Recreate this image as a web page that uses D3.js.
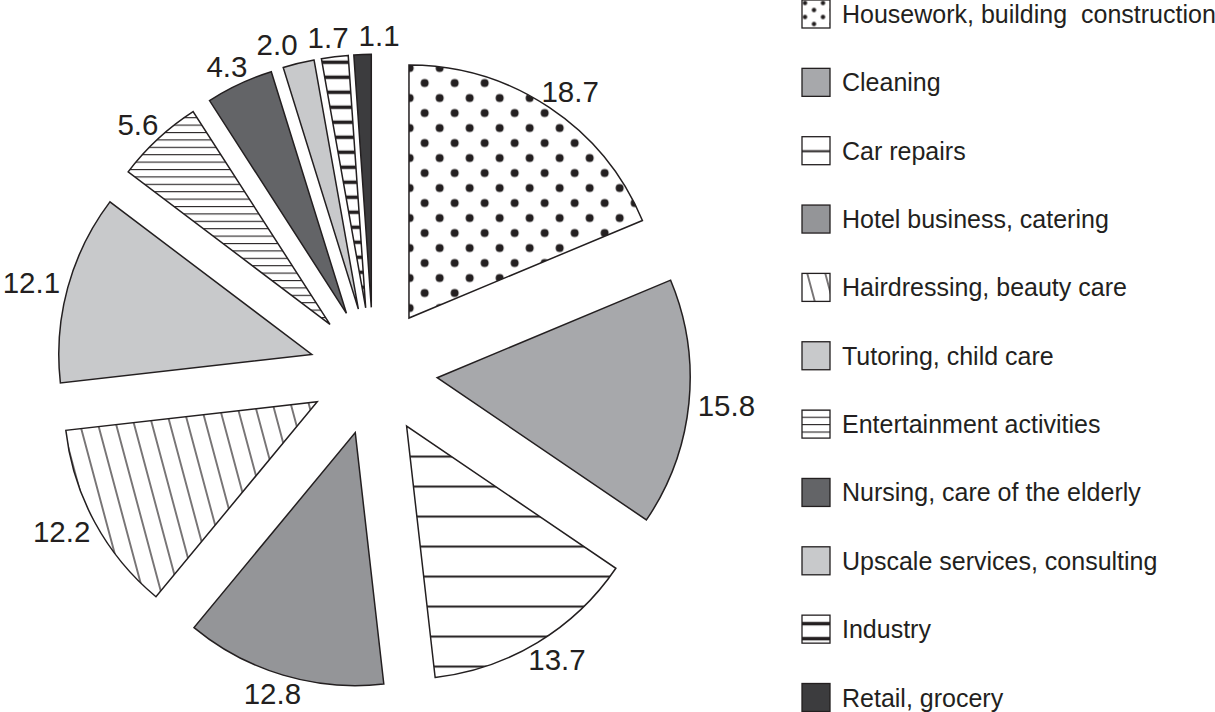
<!DOCTYPE html>
<html>
<head>
<meta charset="utf-8">
<script src="https://cdn.jsdelivr.net/npm/d3@7"></script>
<style>
  body { margin: 0; background: #fff; }
  svg { display: block; font-family: "Liberation Sans", Arial, sans-serif; }
</style>
</head>
<body>
<svg id="chart" width="1215" height="712"></svg>
<script>
// data (percent)
var categories = ["Housework, building  construction", "Cleaning", "Car repairs",
  "Hotel business, catering", "Hairdressing, beauty care", "Tutoring, child care",
  "Entertainment activities", "Nursing, care of the elderly",
  "Upscale services, consulting", "Industry", "Retail, grocery"];
var values = [18.7, 15.8, 13.7, 12.8, 12.2, 12.1, 5.6, 4.3, 2.0, 1.7, 1.1];
var valueLabels = ["18.7", "15.8", "13.7", "12.8", "12.2", "12.1", "5.6", "4.3", "2.0", "1.7", "1.1"];

// fills, same order as categories (legend uses a finer dot pattern for the first one)
var fills = ["url(#dots)", "#a7a8ab", "url(#hlines)", "#949598", "url(#diag)", "#c8c9cb",
  "url(#thinlines)", "#636467", "#c8c9cb", "url(#thicklines)", "#3c3c3e"];
var keyFills = fills.slice();
keyFills[0] = "url(#dotsKey)";

var ink = "#231f20";
var svg = d3.select("#chart");
var defs = svg.append("defs");

// dotted pattern
var p = defs.append("pattern").attr("id", "dots").attr("patternUnits", "userSpaceOnUse")
  .attr("x", -6.8).attr("y", -2.5).attr("width", 30).attr("height", 30);
p.append("rect").attr("width", 30).attr("height", 30).attr("fill", "#fff");
p.append("circle").attr("cx", 7.5).attr("cy", 22.5).attr("r", 4).attr("fill", ink);
p.append("circle").attr("cx", 22.5).attr("cy", 7.5).attr("r", 4).attr("fill", ink);

// smaller dots for the legend box
p = defs.append("pattern").attr("id", "dotsKey").attr("patternUnits", "userSpaceOnUse")
  .attr("x", 799.5).attr("y", 6.5).attr("width", 18).attr("height", 14);
p.append("rect").attr("width", 18).attr("height", 14).attr("fill", "#fff");
p.append("circle").attr("cx", 4.5).attr("cy", 3.5).attr("r", 2.2).attr("fill", ink);
p.append("circle").attr("cx", 13.5).attr("cy", 10.5).attr("r", 2.2).attr("fill", ink);

// wide horizontal lines
p = defs.append("pattern").attr("id", "hlines").attr("patternUnits", "userSpaceOnUse")
  .attr("x", 0).attr("y", -15).attr("width", 10).attr("height", 30);
p.append("rect").attr("width", 10).attr("height", 30).attr("fill", "#fff");
p.append("rect").attr("y", 14.5).attr("width", 10).attr("height", 2).attr("fill", ink);

// thin close horizontal lines
p = defs.append("pattern").attr("id", "thinlines").attr("patternUnits", "userSpaceOnUse")
  .attr("width", 10).attr("height", 7.4);
p.append("rect").attr("width", 10).attr("height", 7.4).attr("fill", "#fff");
p.append("rect").attr("y", 0).attr("width", 10).attr("height", 1.1).attr("fill", ink);

// thick horizontal lines
p = defs.append("pattern").attr("id", "thicklines").attr("patternUnits", "userSpaceOnUse")
  .attr("width", 10).attr("height", 15);
p.append("rect").attr("width", 10).attr("height", 15).attr("fill", "#fff");
p.append("rect").attr("y", 7.75).attr("width", 10).attr("height", 3.5).attr("fill", ink);

// steep diagonal lines
p = defs.append("pattern").attr("id", "diag").attr("patternUnits", "userSpaceOnUse")
  .attr("width", 17.4).attr("height", 10).attr("patternTransform", "rotate(-15)");
p.append("rect").attr("width", 17.4).attr("height", 10).attr("fill", "#fff");
p.append("line").attr("x1", 8.7).attr("x2", 8.7).attr("y1", 0).attr("y2", 10)
  .attr("stroke", ink).attr("stroke-width", 1.2);

var cx = 373.5, cy = 371.3;
var radius = 253;
var explode = 64;

var pie = d3.pie().sort(null).value(function(d) { return d; });
var arcs = pie(values);
var arc = d3.arc().innerRadius(0).outerRadius(radius);

function midAngle(d) { return (d.startAngle + d.endAngle) / 2; }

var g = svg.append("g").attr("transform", "translate(" + cx + "," + cy + ")");

g.selectAll("path.slice").data(arcs).enter().append("path")
  .attr("class", "slice")
  .attr("transform", function(d) {
    var a = midAngle(d);
    return "translate(" + (explode * Math.sin(a)) + "," + (-explode * Math.cos(a)) + ")";
  })
  .attr("d", arc)
  .attr("fill", function(d, i) { return fills[i]; })
  .attr("stroke", ink)
  .attr("stroke-width", 1.5)
  .attr("stroke-linejoin", "miter");

// value labels just outside each slice
var labels = g.selectAll("text.val").data(arcs).enter().append("text")
  .attr("class", "val")
  .text(function(d, i) { return valueLabels[i]; })
  .attr("font-size", 29.5)
  .attr("fill", ink)
  .attr("text-anchor", "middle")
  .attr("dy", "0.36em");

var capH = 21;
var pos = [];
labels.each(function(d) {
  var a = midAngle(d);
  var dx = Math.sin(a), dy = -Math.cos(a);
  var w = this.getComputedTextLength() / 2;
  var r = explode + radius + 9;
  pos.push({x: r * dx + w * dx, y: r * dy + capH / 2 * dy, w: w});
});

// push crowded labels apart sideways
var pad = 10;
for (var it = 0; it < 60; it++) {
  for (var i = 0; i < pos.length; i++) {
    for (var j = i + 1; j < pos.length; j++) {
      var A = pos[i], B = pos[j];
      if (Math.abs(A.y - B.y) >= capH) continue;
      var need = A.w + B.w + pad - Math.abs(A.x - B.x);
      if (need > 0) {
        var s = A.x < B.x ? -1 : 1;
        A.x += s * need / 4;
        B.x -= s * need / 4;
      }
    }
  }
}

labels
  .attr("x", function(d, i) { return pos[i].x; })
  .attr("y", function(d, i) { return pos[i].y; });

// legend
var ly = d3.scalePoint().domain(categories).range([14, 697.5]);
var legend = svg.append("g").selectAll("g").data(categories).enter().append("g")
  .attr("transform", function(d) { return "translate(802," + ly(d) + ")"; });

legend.append("rect")
  .attr("x", 0).attr("y", -14)
  .attr("width", 28).attr("height", 28)
  .attr("fill", function(d, i) { return keyFills[i]; })
  .attr("stroke", ink).attr("stroke-width", 1.3);

legend.append("text")
  .attr("x", 40)
  .attr("dy", "0.36em")
  .attr("font-size", 25)
  .attr("fill", ink)
  .style("white-space", "pre")
  .text(function(d) { return d; });
</script>
</body>
</html>
